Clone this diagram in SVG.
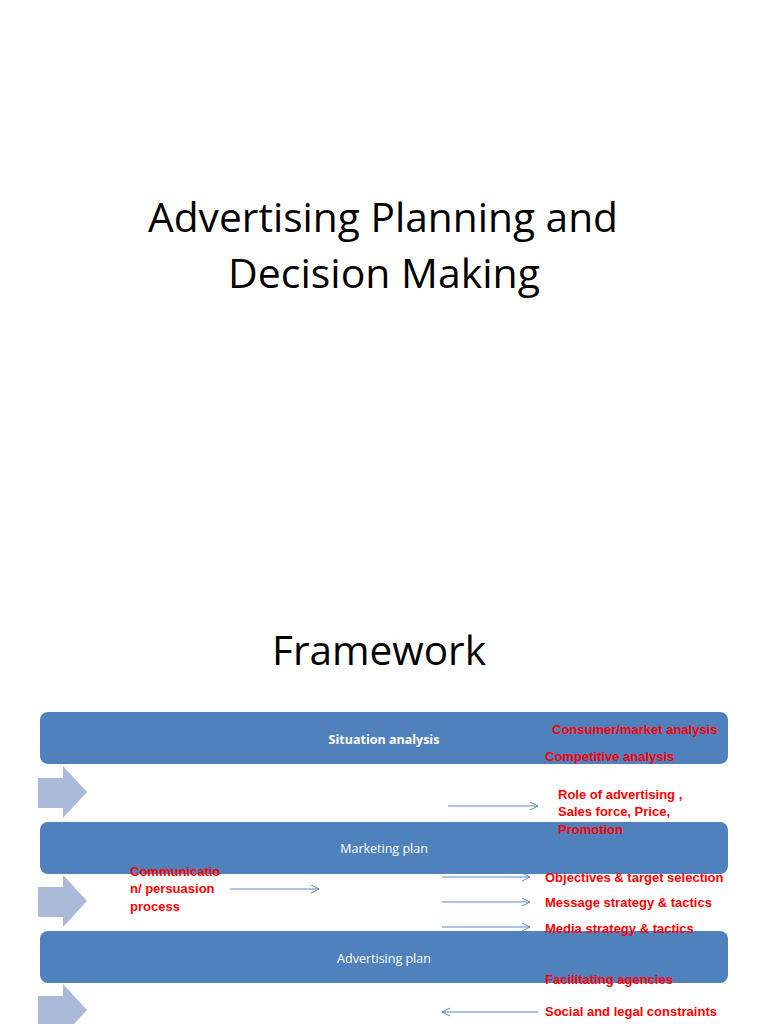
<svg xmlns="http://www.w3.org/2000/svg" width="768" height="1024" viewBox="0 0 768 1024">
<defs>
<style>
.title{font-family:"Open Sans","Liberation Sans",sans-serif;font-size:40px;fill:#000}
.box{fill:#4f81bd}
.chev{fill:#aab9d8}
.bl{font-family:"Open Sans","Liberation Sans",sans-serif;font-size:12.5px;fill:#fff;text-anchor:middle}
.red{font-family:"Liberation Sans","Open Sans",sans-serif;font-size:13px;font-weight:bold;fill:#ff0000}
.con{stroke:#5b86c0;stroke-width:1;fill:none}
</style>
<marker id="ah" viewBox="0 0 10 10" refX="9" refY="5" markerWidth="10" markerHeight="10" markerUnits="userSpaceOnUse" orient="auto">
<path d="M1,1 L9,5 L1,9" fill="none" stroke="#5b86c0" stroke-width="1"/>
</marker>
</defs>
<rect width="768" height="1024" fill="#fff"/>
<g id="title">
<text class="title" x="383" y="232" text-anchor="middle" textLength="470" lengthAdjust="spacingAndGlyphs">Advertising Planning and</text>
<text class="title" x="384" y="288" text-anchor="middle" textLength="312" lengthAdjust="spacingAndGlyphs">Decision Making</text>
<text class="title" x="379" y="665" text-anchor="middle" textLength="214" lengthAdjust="spacingAndGlyphs">Framework</text>
</g>
<g id="chevrons">
<path class="chev" d="M38,778 H63 V766 L87,792 L63,818 V808 H38 Z"/>
<path class="chev" d="M38,887 H63 V875 L87,901 L63,927 V917 H38 Z"/>
<path class="chev" d="M38,996 H63 V984 L87,1010 L63,1036 V1026 H38 Z"/>
</g>
<g id="situation">
<rect class="box" x="40" y="712" width="688" height="52" rx="8"/>
<text class="bl" x="384" y="744" font-weight="bold">Situation analysis</text>
</g>
<g id="marketing">
<rect class="box" x="40" y="822" width="688" height="52" rx="8"/>
<text class="bl" x="384" y="853">Marketing plan</text>
</g>
<g id="advertising">
<rect class="box" x="40" y="931" width="688" height="52" rx="8"/>
<text class="bl" x="384" y="963">Advertising plan</text>
</g>
<g id="connectors">
<line class="con" x1="448" y1="806" x2="538" y2="806" marker-end="url(#ah)"/>
<line class="con" x1="230" y1="889" x2="319" y2="889" marker-end="url(#ah)"/>
<line class="con" x1="442" y1="877" x2="530" y2="877" marker-end="url(#ah)"/>
<line class="con" x1="442" y1="902" x2="530" y2="902" marker-end="url(#ah)"/>
<line class="con" x1="442" y1="927" x2="530" y2="927" marker-end="url(#ah)"/>
<line class="con" x1="538" y1="1012" x2="442" y2="1012" marker-end="url(#ah)"/>
</g>
<g id="labels">
<text class="red" x="552" y="734">Consumer/market analysis</text>
<text class="red" x="545" y="761">Competitive analysis</text>
<text class="red" x="558" y="799">Role of advertising ,</text>
<text class="red" x="558" y="816">Sales force, Price,</text>
<text class="red" x="558" y="834">Promotion</text>
<text class="red" x="130" y="876">Communicatio</text>
<text class="red" x="130" y="893">n/ persuasion</text>
<text class="red" x="130" y="911">process</text>
<text class="red" x="545" y="882">Objectives &amp; target selection</text>
<text class="red" x="545" y="907">Message strategy &amp; tactics</text>
<text class="red" x="545" y="933">Media strategy &amp; tactics</text>
<text class="red" x="545" y="984">Facilitating agencies</text>
<text class="red" x="545" y="1016">Social and legal constraints</text>
</g>
</svg>
